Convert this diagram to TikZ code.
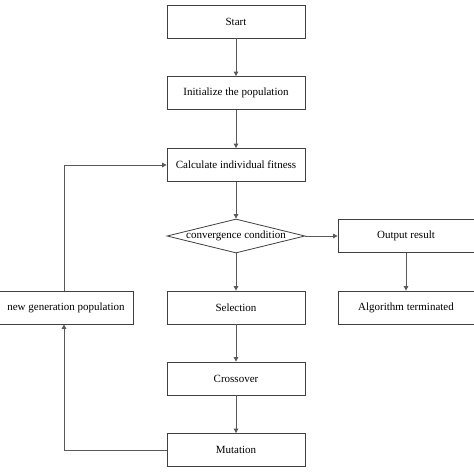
\documentclass[tikz,border=0pt]{standalone}
\usepackage{fontspec}
\setmainfont{Liberation Serif}
\usetikzlibrary{shapes.geometric,arrows.meta}
\begin{document}
\begin{tikzpicture}[x=1pt,y=-1pt,
  txt/.style={font=\fontsize{11}{13}\selectfont},
  box/.style={draw=black!75,line width=0.8pt,rectangle,minimum width=138pt,minimum height=33pt,inner sep=0pt,txt},
  dia/.style={draw=black!75,line width=0.8pt,diamond,aspect=4.06,minimum width=138pt,minimum height=34pt,inner sep=0pt},
  arr/.style={draw=black!65,line width=0.8pt,-{Triangle[length=4.5pt,width=4.5pt]}}]
\useasboundingbox[fill=white] (0,0) rectangle (474,474);
\node[box] (start) at (236,21.5) {Start};
\node[box] (init) at (236,93) {Initialize the population};
\node[box] (calc) at (236,165) {Calculate individual fitness};
\node[dia] (conv) at (236,236) {};
\node[txt] (convlabel) at (236,236) {convergence condition};
\node[box,minimum width=136pt] (out) at (406,236) {Output result};
\node[box] (sel) at (236,307.5) {Selection};
\node[box,minimum width=134pt] (newgen) at (66,307.5) {new generation population};
\node[box,minimum width=136pt] (term) at (406,307.5) {Algorithm terminated};
\node[box] (cross) at (236,378.5) {Crossover};
\node[box] (mut) at (236,450) {Mutation};
\draw[arr] (start) -- (init);
\draw[arr] (init) -- (calc);
\draw[arr] (calc) -- (conv);
\draw[arr] (conv) -- (out);
\draw[arr] (conv) -- (sel);
\draw[arr] (out) -- (term);
\draw[arr] (sel) -- (cross);
\draw[arr] (cross) -- (mut);
\draw[arr] (mut.west) -| (newgen.south -| 64,0);
\draw[arr] (newgen.north -| 64,0) |- (calc.west);
\end{tikzpicture}
\end{document}
